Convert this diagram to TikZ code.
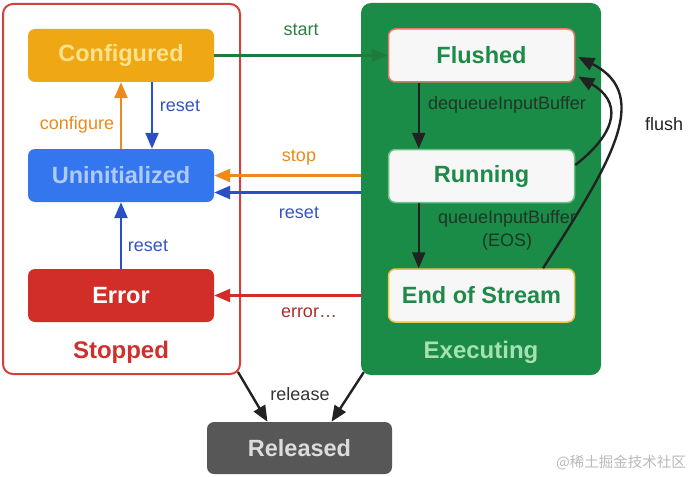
\documentclass[tikz,border=0pt]{standalone}
\usepackage{fontspec}
\setmainfont{Liberation Sans}
\newfontfamily\cjkfont{Noto Sans CJK SC}
\usetikzlibrary{arrows.meta,calc}
\definecolor{cOrange}{HTML}{EFA714}
\definecolor{cOrangeTxt}{HTML}{FBE28C}
\definecolor{cBlue}{HTML}{3476EE}
\definecolor{cBlueTxt}{HTML}{AECBF7}
\definecolor{cRed}{HTML}{D12E2A}
\definecolor{cRedLine}{HTML}{D4403C}
\definecolor{cStopTxt}{HTML}{D0302C}
\definecolor{cGreen}{HTML}{1B8C48}
\definecolor{cGreenTxt}{HTML}{1E8A47}
\definecolor{cExecTxt}{HTML}{A6E0B4}
\definecolor{cGray}{HTML}{575757}
\definecolor{cGrayTxt}{HTML}{DCDCDC}
\definecolor{cWhiteBox}{HTML}{F7F7F7}
\definecolor{bFlush}{HTML}{E2796B}
\definecolor{bRun}{HTML}{6CC08A}
\definecolor{bEos}{HTML}{F0C445}
\definecolor{aGreen}{HTML}{1E7B3C}
\definecolor{aOrange}{HTML}{EE8A1C}
\definecolor{aBlue}{HTML}{2B4FC9}
\definecolor{lGreen}{HTML}{2D7E43}
\definecolor{lOrange}{HTML}{E98A1F}
\definecolor{lBlue}{HTML}{3554C4}
\definecolor{lRed}{HTML}{A62F2C}
\definecolor{lDark}{HTML}{1F3527}
\definecolor{lRel}{HTML}{333333}
\definecolor{aBlack}{HTML}{222222}
\definecolor{wmGray}{HTML}{B9B9B9}
\tikzset{
  statebox/.style={rounded corners=7pt, minimum width=186pt, minimum height=53pt,
    inner sep=0pt, font=\fontsize{23.5}{26}\selectfont\bfseries},
  whitebox/.style={statebox, fill=cWhiteBox, line width=1.5pt, text=cGreenTxt},
  groupbox/.style={rounded corners=10pt, inner sep=0pt},
  lbl/.style={font=\fontsize{18}{21}\selectfont, inner sep=0pt},
  arr/.style={line width=2.4pt, -{Triangle[length=16pt,width=13pt]}},
}
\begin{document}
\begin{tikzpicture}[x=1pt,y=-1pt]
\useasboundingbox (0,0) rectangle (692,476);
% containers
\node[groupbox, draw=cRedLine, line width=2pt, fill=white, minimum width=237pt, minimum height=370pt] (stopped) at (121.5,189) {};
\node[groupbox, fill=cGreen, minimum width=240pt, minimum height=372pt] (exec) at (481,189) {};
% states
\node[statebox, fill=cOrange, text=cOrangeTxt] (conf) at (121,55.5) {Configured};
\node[statebox, fill=cBlue, text=cBlueTxt] (uninit) at (121,175.5) {Uninitialized};
\node[statebox, fill=cRed, text=white] (err) at (121,295.5) {Error};
\node[whitebox, draw=bFlush] (flushed) at (481.5,55.5) {Flushed};
\node[whitebox, draw=bRun] (running) at (481.5,176) {Running};
\node[whitebox, draw=bEos] (eos) at (481.5,295.5) {End of Stream};
\node[statebox, fill=cGray, text=cGrayTxt, minimum width=185pt, minimum height=52pt] (released) at (299.5,448) {Released};
% group titles
\node[font=\fontsize{24}{26}\selectfont\bfseries, text=cStopTxt, inner sep=0pt] (stopT) at (121,352) {Stopped};
\node[font=\fontsize{24}{26}\selectfont\bfseries, text=cExecTxt, inner sep=0pt] (execT) at (481,352) {Executing};
% arrows
\draw[arr, aGreen] (conf.east) -- (flushed.west);
\node[lbl, text=lGreen] (lstart) at (301,30) {start};
\draw[arr, aOrange] (uninit.north) -- (conf.south);
\node[lbl, text=lOrange] (lconf) at (77,125) {configure};
\draw[arr, aBlue] ($(conf.south)+(31,0)$) -- ($(uninit.north)+(31,0)$);
\node[lbl, text=lBlue] (lreset1) at (180,106) {reset};
\draw[arr, aOrange] (exec.west |- uninit.east) -- (uninit.east);
\node[lbl, text=lOrange] (lstop) at (299,158) {stop};
\draw[arr, aBlue] ($(exec.west |- uninit.east)+(0,17)$) -- ($(uninit.east)+(0,17)$);
\node[lbl, text=lBlue] (lreset2) at (299,213) {reset};
\draw[arr, aBlue] (err.north) -- (uninit.south);
\node[lbl, text=lBlue] (lreset3) at (148,246) {reset};
\draw[arr, cRed] (exec.west |- err.east) -- (err.east);
\node[lbl, text=lRed] (lerr) at (309,313) {error…};
\draw[arr, aBlack] ($(flushed.south west)+(31,0)$) -- ($(running.north west)+(31,0)$);
\node[lbl, text=lDark] (ldeq) at (507,105) {dequeueInputBuffer};
\draw[arr, aBlack] ($(running.south west)+(31,0)$) -- ($(eos.north west)+(31,0)$);
\node[lbl, text=lDark, align=center] (lq) at (507,230) {queueInputBuffer\\[2pt](EOS)};
\draw[arr, aBlack] ($(running.east)+(0,-11)$) .. controls ($(running.east)+(45,-46)$) and ($(flushed.east)+(45,45)$) .. ($(flushed.east)+(3,21)$);
\draw[arr, aBlack] ($(eos.north)+(61.5,0)$) .. controls ($(eos.north)+(125,-100)$) and ($(flushed.east)+(80,40)$) .. ($(flushed.east)+(3,1.5)$);
\node[lbl, text=aBlack] (lflush) at (664,124) {flush};
\draw[arr, aBlack] ([shift={(-3pt,3pt)}]stopped.south east) -- ([xshift=-32pt]released.north);
\draw[arr, aBlack] ([shift={(3pt,3pt)}]exec.south west) -- ([xshift=32pt]released.north);
\node[lbl, text=lRel] (lrel) at (300,394) {release};
% watermark
\node[font=\cjkfont\fontsize{14.5}{16}\selectfont, text=wmGray, inner sep=0pt] (wm) at (621,463) {@稀土掘金技术社区};
\end{tikzpicture}
\end{document}
